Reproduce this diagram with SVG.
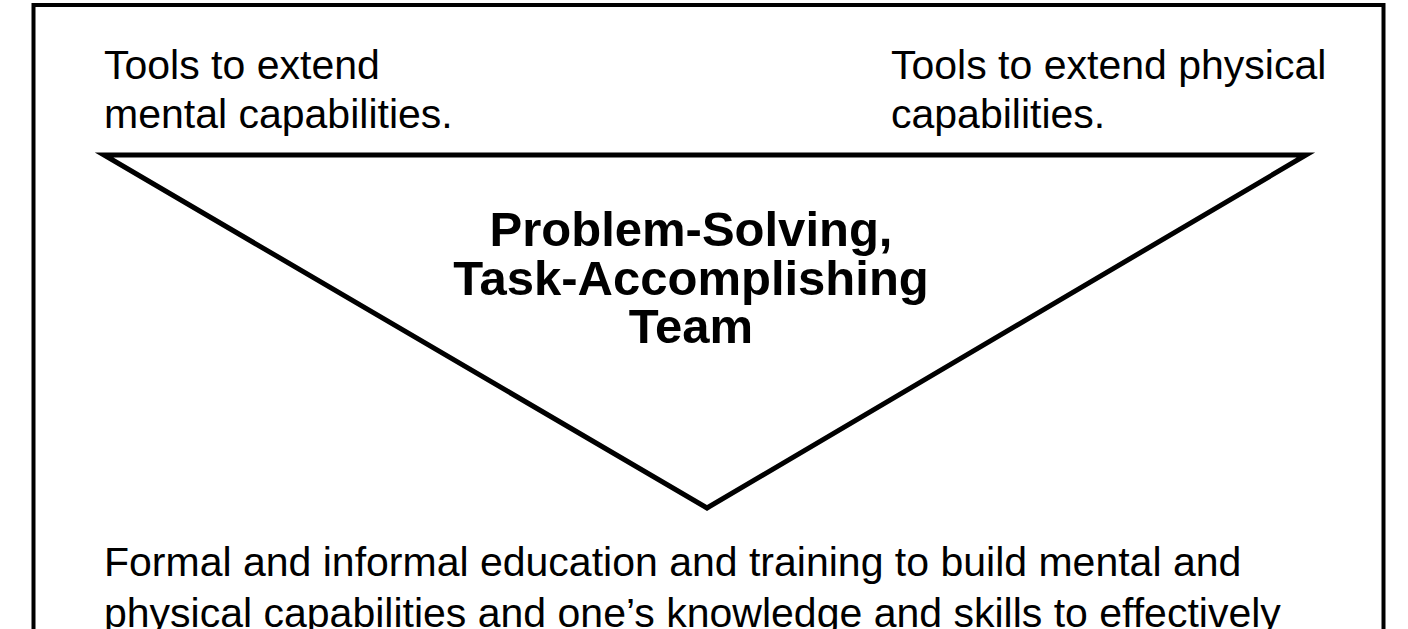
<svg xmlns="http://www.w3.org/2000/svg" width="1408" height="629" viewBox="0 0 1408 629">
<style>
.t{font-family:"Liberation Sans",Arial,sans-serif;font-size:41px;fill:#000}
.b{font-family:"Liberation Sans",Arial,sans-serif;font-size:49px;font-weight:bold;fill:#000;text-anchor:middle}
.ln{fill:none;stroke:#000}
</style>
<rect width="1408" height="629" fill="#fff"/>
<g id="frame"><rect class="ln" x="33.5" y="5" width="1350" height="700" stroke-width="4"/></g>
<g id="mental"><text class="t" x="104" y="79">Tools to extend</text><text class="t" x="104" y="128">mental capabilities.</text></g>
<g id="physical"><text class="t" x="891" y="79">Tools to extend physical</text><text class="t" x="891" y="128">capabilities.</text></g>
<g id="team">
<polygon class="ln" points="104,155 1306,155 707,508" stroke-width="5" stroke-linejoin="miter"/>
<text class="b" x="691" y="246">Problem-Solving,</text>
<text class="b" x="691" y="295">Task-Accomplishing</text>
<text class="b" x="691" y="343">Team</text>
</g>
<g id="education"><text class="t" x="104" y="576">Formal and informal education and training to build mental and</text><text class="t" x="104" y="627">physical capabilities and one’s knowledge and skills to effectively</text></g>
<g id="connectors"></g>
</svg>
